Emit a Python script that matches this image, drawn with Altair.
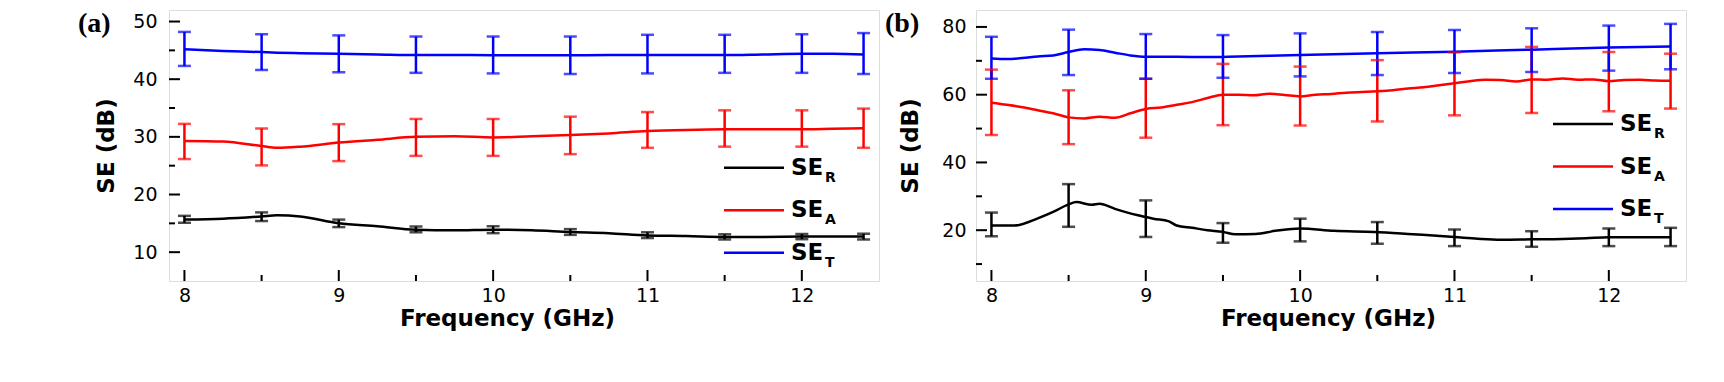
import altair as alt
import pandas as pd

FONT = "DejaVu Sans"
SERIF = "Liberation Serif"
SERIES = ["SE_R", "SE_A", "SE_T"]
SUBS = ["R", "A", "T"]
COLORS = ["#000000", "#ff0000", "#0000ff"]

# ---------------- data: error-bar frequencies ----------------
eb_f = [8.0, 8.5, 9.0, 9.5, 10.0, 10.5, 11.0, 11.5, 12.0, 12.4]

# ---------------- panel (a) ----------------
a_line_f = [8.0, 8.25, 8.5, 8.6, 8.75, 9.0, 9.25, 9.5, 9.75, 10.0, 10.25, 10.5,
            10.75, 11.0, 11.25, 11.5, 11.75, 12.0, 12.2, 12.4]
a_R_line = [15.65, 15.8, 16.2, 16.4, 16.2, 15.0, 14.5, 13.9, 13.8, 13.9, 13.8, 13.5,
            13.3, 12.9, 12.8, 12.65, 12.65, 12.7, 12.7, 12.7]
a_A_line = [29.3, 29.2, 28.4, 28.1, 28.3, 29.0, 29.5, 30.0, 30.1, 29.9, 30.1, 30.3,
            30.6, 31.0, 31.2, 31.3, 31.3, 31.3, 31.4, 31.5]
a_T_line = [45.2, 44.9, 44.7, 44.6, 44.5, 44.4, 44.3, 44.2, 44.2, 44.15, 44.15, 44.15,
            44.2, 44.2, 44.2, 44.2, 44.3, 44.4, 44.4, 44.3]

a_R_mean = [15.7, 16.15, 15.0, 13.95, 13.9, 13.5, 12.95, 12.65, 12.7, 12.7]
a_R_err = [0.6, 0.75, 0.65, 0.5, 0.6, 0.5, 0.5, 0.45, 0.45, 0.5]
a_A_mean = [29.2, 28.25, 29.0, 29.9, 29.9, 30.25, 31.2, 31.45, 31.45, 31.5]
a_A_err = [3.05, 3.2, 3.2, 3.2, 3.2, 3.25, 3.1, 3.15, 3.15, 3.4]
a_T_mean = [45.25, 44.7, 44.4, 44.25, 44.2, 44.15, 44.35, 44.4, 44.45, 44.45]
a_T_err = [2.95, 3.1, 3.2, 3.15, 3.2, 3.25, 3.35, 3.3, 3.35, 3.55]

# ---------------- panel (b) ----------------
b_R_line_f = [8.0, 8.15, 8.3, 8.4, 8.5, 8.55, 8.65, 8.7, 8.8, 8.95, 9.0, 9.05, 9.15,
              9.2, 9.3, 9.4, 9.5, 9.58, 9.71, 9.84, 10.0, 10.22, 10.48, 10.73, 11.0,
              11.15, 11.3, 11.5, 11.7, 11.85, 12.0, 12.2, 12.4]
b_R_line = [21.4, 21.4, 23.5, 25.4, 27.6, 28.3, 27.5, 27.8, 26.3, 24.4, 23.9, 23.4, 22.6,
            21.4, 20.7, 20.0, 19.5, 18.8, 18.9, 19.8, 20.5, 19.8, 19.5, 18.8, 18.0,
            17.5, 17.2, 17.3, 17.4, 17.6, 17.9, 17.9, 17.9]
b_A_line_f = [8.0, 8.1, 8.2, 8.3, 8.4, 8.5, 8.6, 8.7, 8.8, 8.9, 9.0, 9.1, 9.2, 9.3, 9.4,
              9.5, 9.6, 9.7, 9.8, 9.9, 10.0, 10.1, 10.2, 10.3, 10.4, 10.5, 10.6, 10.7,
              10.8, 10.9, 11.0, 11.1, 11.2, 11.3, 11.4, 11.5, 11.6, 11.7, 11.8, 11.9,
              12.0, 12.1, 12.2, 12.3, 12.4]
b_A_line = [57.6, 57.0, 56.3, 55.4, 54.5, 53.3, 53.0, 53.5, 53.2, 54.5, 55.8, 56.2, 57.0,
            57.8, 59.0, 60.0, 60.0, 59.8, 60.3, 59.9, 59.5, 60.0, 60.2, 60.6, 60.8, 61.0,
            61.3, 61.8, 62.2, 62.8, 63.4, 64.0, 64.4, 64.3, 63.9, 64.5, 64.4, 64.8, 64.4,
            64.5, 64.0, 64.3, 64.4, 64.2, 64.1]
b_T_line_f = [8.0, 8.1, 8.2, 8.3, 8.4, 8.5, 8.6, 8.7, 8.8, 8.9, 9.0, 9.2, 9.4, 9.6, 9.8,
              10.0, 10.5, 11.0, 11.5, 12.0, 12.4]
b_T_line = [70.7, 70.5, 70.8, 71.3, 71.6, 72.6, 73.4, 73.2, 72.4, 71.6, 71.2, 71.2, 71.1,
            71.3, 71.5, 71.7, 72.2, 72.7, 73.3, 73.9, 74.2]

b_R_mean = [21.7, 27.3, 23.4, 19.2, 20.05, 19.2, 17.75, 17.4, 17.9, 18.0]
b_R_err = [3.5, 6.3, 5.4, 2.9, 3.35, 3.2, 2.45, 2.3, 2.6, 2.7]
b_A_mean = [57.75, 53.35, 56.0, 60.05, 59.6, 61.15, 63.2, 64.35, 63.85, 64.0]
b_A_err = [9.65, 7.95, 8.7, 9.05, 8.7, 9.05, 9.3, 9.75, 8.75, 8.1]
b_T_mean = [70.9, 72.5, 71.3, 71.3, 71.75, 72.15, 72.75, 73.15, 73.75, 74.2]
b_T_err = [6.2, 6.7, 6.6, 6.3, 6.35, 6.35, 6.35, 6.45, 6.65, 6.7]

x_major = [8, 9, 10, 11, 12]
x_minor = [8.5, 9.5, 10.5, 11.5]
a_y_major = [10, 20, 30, 40, 50]
a_y_minor = [15, 25, 35, 45]
b_y_major = [20, 40, 60, 80]
b_y_minor = [10, 30, 50, 70]

W, H = 710, 271


def lines_df(fs, vs):
    parts = []
    for s, f, v in zip(SERIES, fs, vs):
        parts.append(pd.DataFrame({"f": f, "v": v, "s": s}))
    return pd.concat(parts, ignore_index=True)


def eb_df(means, errs):
    rows, caps = [], []
    for s, m, e in zip(SERIES, means, errs):
        for f, mm, ee in zip(eb_f, m, e):
            rows.append({"f": f, "v": mm - ee, "v2": mm + ee, "s": s})
            caps.append({"f": f, "v": mm - ee, "s": s})
            caps.append({"f": f, "v": mm + ee, "s": s})
    return pd.DataFrame(rows), pd.DataFrame(caps)


def build(ldf, means, errs, ydom, ymaj, ymin, lab_pad, title_pad, leg_x, leg_y, label,
          xtitle_x):
    xs = alt.Scale(domain=[7.9, 12.5], nice=False, zero=False)
    ys = alt.Scale(domain=ydom, nice=False, zero=False)
    xax = alt.Axis(values=x_major, format="d", title="Frequency (GHz)", ticks=False,
                   tickSize=0, domain=False, grid=False, labelFont=FONT, labelFontSize=19,
                   labelColor="black", labelPadding=5, titleFont=FONT, titleFontSize=23,
                   titleFontWeight="bold", titleColor="black", titlePadding=2,
                   titleX=xtitle_x, titleAlign="center")
    yax = alt.Axis(values=ymaj, format="d", title="SE (dB)", ticks=False, tickSize=0,
                   domain=False, grid=False, labelFont=FONT, labelFontSize=19,
                   labelColor="black", labelPadding=lab_pad, titleFont=FONT,
                   titleFontSize=23, titleFontWeight="bold", titleColor="black",
                   titlePadding=title_pad)

    def X():
        return alt.X("f:Q", scale=xs, axis=xax)

    def Y():
        return alt.Y("v:Q", scale=ys, axis=yax)

    col = alt.Color("s:N", scale=alt.Scale(domain=SERIES, range=COLORS), legend=None)
    rows, caps = eb_df(means, errs)

    layers = []
    layers.append(alt.Chart(ldf).mark_line(strokeWidth=2.5, interpolate="monotone")
                  .encode(x=X(), y=Y(), color=col, detail="s:N"))
    layers.append(alt.Chart(rows).mark_rule(strokeWidth=2.5)
                  .encode(x=X(), y=Y(), y2="v2:Q", color=col))
    layers.append(alt.Chart(caps).mark_tick(orient="horizontal", size=13, thickness=2.5)
                  .encode(x=X(), y=Y(), color=col))
    # inward ticks
    layers.append(alt.Chart(pd.DataFrame({"f": x_major})).mark_rule(color="black", strokeWidth=2)
                  .encode(x=X(), y=alt.value(H), y2=alt.value(H - 11)))
    layers.append(alt.Chart(pd.DataFrame({"f": x_minor})).mark_rule(color="black", strokeWidth=2)
                  .encode(x=X(), y=alt.value(H), y2=alt.value(H - 6)))
    layers.append(alt.Chart(pd.DataFrame({"v": ymaj})).mark_rule(color="black", strokeWidth=2)
                  .encode(y=Y(), x=alt.value(0), x2=alt.value(11)))
    layers.append(alt.Chart(pd.DataFrame({"v": ymin})).mark_rule(color="black", strokeWidth=2)
                  .encode(y=Y(), x=alt.value(0), x2=alt.value(6)))
    # legend
    one = pd.DataFrame({"k": [0]})
    for i, (s, sub, c) in enumerate(zip(SERIES, SUBS, COLORS)):
        yy = leg_y + i * 42.5
        layers.append(alt.Chart(one).mark_rule(color=c, strokeWidth=2.5)
                      .encode(x=alt.value(leg_x), x2=alt.value(leg_x + 60), y=alt.value(yy)))
        layers.append(alt.Chart(one).mark_text(text="SE", align="left", baseline="middle",
                                               font=FONT, fontSize=23, fontWeight="bold",
                                               color="black")
                      .encode(x=alt.value(leg_x + 67), y=alt.value(yy)))
        layers.append(alt.Chart(one).mark_text(text=sub, align="left", baseline="middle",
                                               font=FONT, fontSize=14, fontWeight="bold",
                                               color="black")
                      .encode(x=alt.value(leg_x + 101), y=alt.value(yy + 10)))
    layers.append(alt.Chart(one).mark_text(text=label, align="left", baseline="middle",
                                           font=SERIF, fontSize=28, fontWeight="bold",
                                           color="black")
                  .encode(x=alt.value(-91), y=alt.value(14)))
    return alt.layer(*layers).properties(width=W, height=H)


pa = build(lines_df([a_line_f] * 3, [a_R_line, a_A_line, a_T_line]),
           [a_R_mean, a_A_mean, a_T_mean], [a_R_err, a_A_err, a_T_err],
           [5, 52], a_y_major, a_y_minor, 12, 14, 555, 157.7, "(a)", 338)
pb = build(lines_df([b_R_line_f, b_A_line_f, b_T_line_f], [b_R_line, b_A_line, b_T_line]),
           [b_R_mean, b_A_mean, b_T_mean], [b_R_err, b_A_err, b_T_err],
           [5, 85], b_y_major, b_y_minor, 10, 19, 577, 114, "(b)", 352)

chart = alt.hconcat(pa, pb, spacing=97, bounds="flush").properties(
    padding={"left": 69, "top": 1, "right": 5, "bottom": 5}
).configure_view(stroke="black", strokeWidth=2).configure(background="white")

chart.save("out.html", embed_options={"renderer": "svg", "actions": False})
